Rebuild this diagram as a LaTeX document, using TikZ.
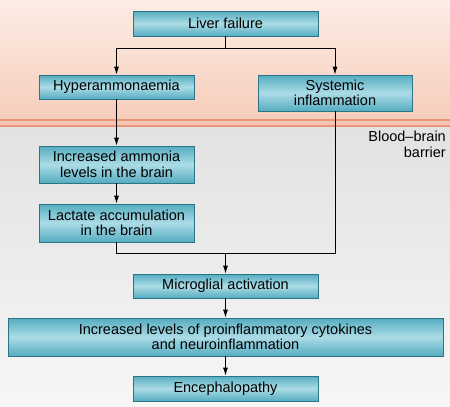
\documentclass[tikz,border=0pt]{standalone}
\usepackage{fontspec}
\setmainfont{Liberation Sans}
\usetikzlibrary{arrows.meta, positioning}

\definecolor{boxedge}{HTML}{2C7587}
\definecolor{boxdark}{HTML}{55ACC0}
\definecolor{boxlight}{HTML}{ABDCE6}
\definecolor{pinktop}{HTML}{FCEDE6}
\definecolor{pinkbot}{HTML}{F7CDBB}
\definecolor{bandline}{HTML}{E5957A}
\definecolor{bandfill}{HTML}{F7C6B2}
\definecolor{greytop}{HTML}{E2E2E2}
\definecolor{greybot}{HTML}{F6F6F6}

\begin{document}
\begin{tikzpicture}[
    x=1pt, y=-1pt,
    font=\fontsize{14.5}{15.5}\selectfont,
    stepbox/.style={rectangle, draw=boxedge, line width=0.8pt, align=center,
        top color=boxdark, bottom color=boxdark, middle color=boxlight,
        inner sep=0pt},
    smallbox/.style={stepbox, minimum width=185pt, minimum height=25pt},
    sidebox/.style={stepbox, minimum width=155pt},
    link/.style={line width=0.8pt, -{Latex[length=8pt, width=5pt]}},
    plain/.style={line width=0.8pt}
]
    % Background regions
    \useasboundingbox (0,0) rectangle (450,407);
    \shade[top color=pinktop, bottom color=pinkbot] (0,0) rectangle (450,119);
    \fill[bandfill] (0,119) rectangle (450,127);
    \draw[bandline, line width=1.5pt] (0,119.8) -- (450,119.8);
    \draw[bandline, line width=1.5pt] (0,126.2) -- (450,126.2);
    \shade[top color=greytop, bottom color=greybot] (0,127) rectangle (450,407);

    % Nodes
    \node[smallbox] (liver) at (225.5,23.5) {Liver failure};
    \node[sidebox, minimum height=24pt] (hyper) at (116.5,87) {Hyperammonaemia};
    \node[sidebox, minimum width=154pt, minimum height=36pt] (systemic) at (335,93)
        {Systemic\\inflammation};
    \node[sidebox, minimum height=37pt] (ammonia) at (116.5,164.5)
        {Increased ammonia\\levels in the brain};
    \node[sidebox, minimum height=38pt] (lactate) at (116.5,223)
        {Lactate accumulation\\in the brain};
    \node[smallbox, minimum height=24pt] (microglia) at (225.5,286) {Microglial activation};
    \node[stepbox, minimum width=435pt, minimum height=38pt] (cytokines) at (225.5,337)
        {Increased levels of proinflammatory cytokines\\and neuroinflammation};
    \node[smallbox] (enceph) at (225.5,388.5) {Encephalopathy};
    \node[anchor=north east, align=right, inner sep=0pt] (bbb) at (446,131)
        {Blood--brain\\barrier};

    \coordinate (split) at (225.5,48);
    \coordinate (join) at (225.5,253);

    % Connections
    \draw[plain] (liver) -- (split);
    \draw[link] (split) -| (hyper);
    \draw[link] (split) -| (systemic);
    \draw[link] (hyper) -- (ammonia);
    \draw[link] (ammonia) -- (lactate);
    \draw[plain] (lactate) |- (join);
    \draw[plain] (systemic) |- (join);
    \draw[link] (join) -- (microglia);
    \draw[link] (microglia) -- (cytokines);
    \draw[link] (cytokines) -- (enceph);
\end{tikzpicture}
\end{document}
